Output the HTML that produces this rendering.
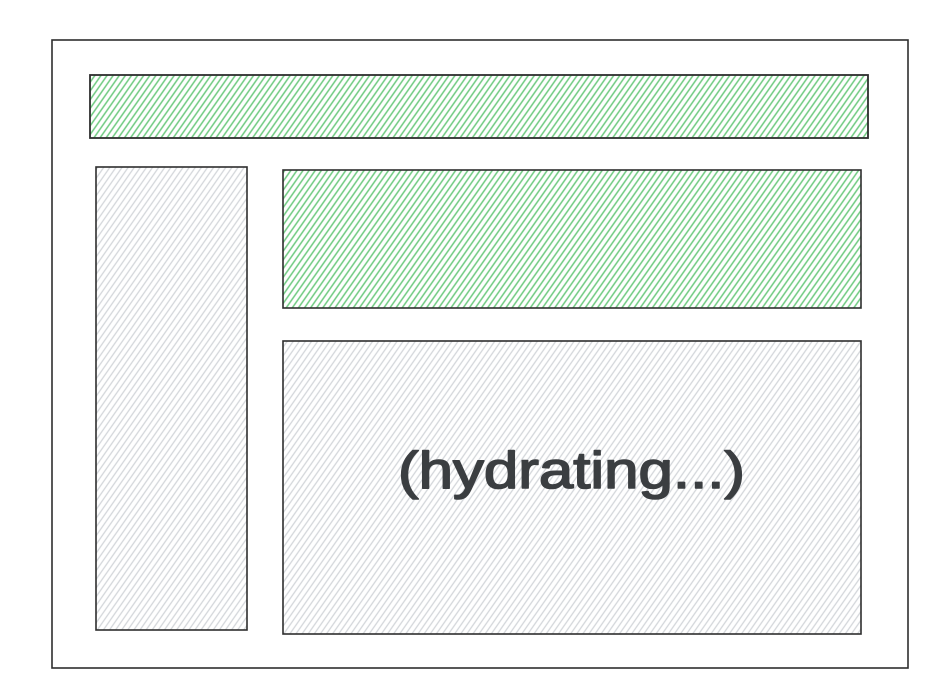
<!DOCTYPE html>
<html>
<head>
<meta charset="utf-8">
<style>
html,body{margin:0;padding:0;background:#fff;}
svg{display:block;}
</style>
</head>
<body>
<svg width="945" height="699" viewBox="0 0 945 699" xmlns="http://www.w3.org/2000/svg">
  <defs>
    <pattern id="g" width="5" height="10" patternUnits="userSpaceOnUse" patternTransform="rotate(35)">
      <line x1="1" y1="0" x2="1" y2="10" stroke="#6cc97e" stroke-width="1.5"/>
    </pattern>
    <pattern id="s" width="5" height="10" patternUnits="userSpaceOnUse" patternTransform="rotate(35)">
      <line x1="1" y1="0" x2="1" y2="10" stroke="#d3d6da" stroke-width="1.3"/>
    </pattern>
  </defs>
  <rect x="0" y="0" width="945" height="699" fill="#fff"/>
  <rect x="52" y="40" width="856" height="628" fill="none" stroke="#2e2e2e" stroke-width="1.6"/>
  <rect x="90" y="75" width="778" height="63" fill="url(#g)" stroke="#2e2e2e" stroke-width="1.8"/>
  <rect x="96" y="167" width="151" height="463" fill="url(#s)" stroke="#2e2e2e" stroke-width="1.6"/>
  <rect x="283" y="170" width="578" height="138" fill="url(#g)" stroke="#2e2e2e" stroke-width="1.6"/>
  <rect x="283" y="341" width="578" height="293" fill="url(#s)" stroke="#2e2e2e" stroke-width="1.6"/>
  <text x="398" y="488" font-family="Liberation Sans, sans-serif" font-size="52" fill="#3b3e41" stroke="#3b3e41" stroke-width="1.6" stroke-linejoin="round" textLength="347" lengthAdjust="spacingAndGlyphs">(hydrating...)</text>
</svg>
</body>
</html>
